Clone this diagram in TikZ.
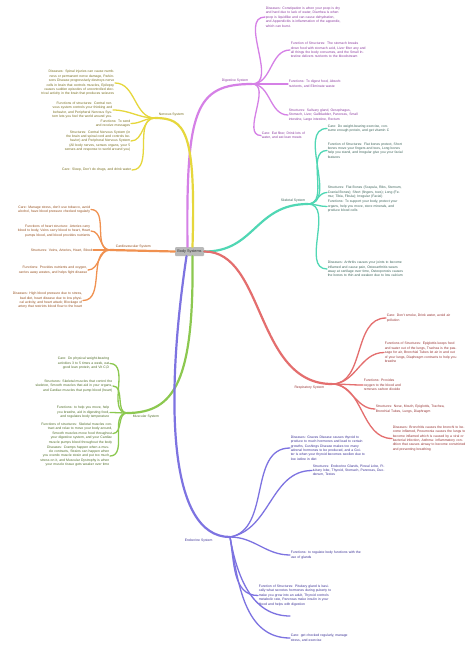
\documentclass[tikz,border=0pt]{standalone}
\usepackage{fontspec}
\setmainfont{Liberation Sans}
\definecolor{digC}{RGB}{213,128,230}
\definecolor{skeC}{RGB}{80,215,180}
\definecolor{resC}{RGB}{228,110,110}
\definecolor{endC}{RGB}{125,115,225}
\definecolor{nerC}{RGB}{230,215,60}
\definecolor{carC}{RGB}{240,145,80}
\definecolor{musC}{RGB}{140,200,80}
\definecolor{digT}{RGB}{140,60,160}
\definecolor{skeT}{RGB}{60,100,90}
\definecolor{resT}{RGB}{150,50,50}
\definecolor{endT}{RGB}{60,50,150}
\definecolor{nerT}{RGB}{120,110,30}
\definecolor{carT}{RGB}{150,80,30}
\definecolor{musT}{RGB}{80,110,40}
\tikzset{
  txt/.style={font=\fontsize{3.4}{4.4}\selectfont, inner sep=0pt, outer sep=0.8pt},
  rt/.style={txt, anchor=west, align=left, text width=#1},
  lt/.style={txt, anchor=east, align=right, text width=#1},
  mainline/.style={line width=2.2pt, line cap=round},
  subline/.style={line width=1.3pt, line cap=round},
}
\begin{document}
\begin{tikzpicture}[x=1pt,y=-1pt]
\useasboundingbox[fill=white] (0,0) rectangle (474,649);
% centre
\node[fill=gray!55, rounded corners=1pt, minimum width=29pt, minimum height=9pt, inner sep=0pt,
      font=\fontsize{3.8}{4.4}\selectfont, text=black!80] (body) at (189.5,251.5) {Body Systems};
% hubs
\coordinate (dig) at (252,84);
\coordinate (ske) at (308,204);
\coordinate (res) at (332,384);
\coordinate (endo) at (230,537);
\coordinate (nerv) at (155,118);
\coordinate (card) at (110,250);
\coordinate (musc) at (127,413);
% main branches
\draw[mainline, digC] (body.north) ++(-2,0) coordinate (b1) (b1) .. controls (186,110) and (195,84) .. (dig);
\draw[mainline, nerC] (body.north) ++(3,0) coordinate (b2) (b2) .. controls (196,130) and (185,118) .. (nerv);
\draw[mainline, carC] (body.west) -- (card);
\draw[mainline, skeC] (body.east) .. controls (255,252) and (255,204) .. (ske);
\draw[mainline, resC] (body.east) .. controls (265,251) and (255,384) .. (res);
\draw[mainline, musC] (body.south) ++(3,0) coordinate (b3) (b3) .. controls (194,380) and (175,413) .. (musc);
\draw[mainline, endC] (body.south) ++(-3,0) coordinate (b4) (b4) .. controls (165,400) and (168,537) .. (endo);
% labels
\node[txt, anchor=south east, text=digT] (digL) at (249,83) {Digestive System};
\node[txt, anchor=south east, text=skeT] (skeL) at (306,203) {Skeletal System};
\node[txt, anchor=north east, text=resT] (resL) at (325,385.5) {Respiratory System};
\node[txt, anchor=north west, text=endT] (endL) at (184,538.5) {Endocrine System};
\node[txt, anchor=south west, text=nerT] (nerL) at (158,117) {Nervous System};
\node[txt, anchor=south west, text=carT] (carL) at (115,249) {Cardiovascular System};
\node[txt, anchor=north west, text=musT] (musL) at (132,414.5) {Muscular System};
% ---------------- Digestive
\begin{scope}[every node/.append style={text=digT}]
\node[rt=77pt] (d1) at (265,17) {Diseases: Constipation is when your poop is dry and hard due to lack of water, Diarrhea is when poop is liquidlike and can cause dehydration, and Appendicitis is inflammation of the appendix, which can burst.};
\node[rt=75pt] (d2) at (290,50) {Function of Structures: The stomach breaks down food with stomach acid, Liver filter any and all things the body consumes, and the Small Intestine delivers nutrients to the bloodstream};
\node[rt=54pt] (d3) at (288,84) {Functions: To digest food, Absorb nutrients, and Eliminate waste};
\node[rt=71pt] (d4) at (288,115) {Structures: Salivary gland, Oesophagus, Stomach, Liver, Gallbladder, Pancreas, Small intestine, Large intestine, Rectum};
\node[rt=44pt] (d5) at (261,135.5) {Care: Eat fiber, Drink lots of water, and eat lean meats};
\end{scope}
\foreach \n in {d1,d2,d3,d4,d5} \draw[subline, digC] (dig) to[out=0,in=180] (\n.west);
% ---------------- Skeletal
\begin{scope}[every node/.append style={text=skeT}]
\node[rt=64pt] (s1) at (327,128.5) {Care: Do weight-bearing exercise, consume enough protein, and get vitamin C};
\node[rt=76pt] (s2) at (327,150.5) {Function of Structures: Flat bones protect, Short bones move your fingers and toes, Long bones help you stand, and Irregular give you your facial features};
\node[rt=76pt] (s3) at (327,192.5) {Structures: Flat Bones (Scapula, Ribs, Sternum, Cranial Bones); Short (fingers, toes); Long (Femur, Tibia, Fibula); Irregular (Facial)};
\node[rt=72pt] (s4) at (327,206.5) {Functions: To support your body, protect your organs, help you move, store minerals, and produce blood cells};
\node[rt=77pt] (s5) at (327,269) {Diseases: Arthritis causes your joints to become inflamed and cause pain, Osteoarthritis wears away at cartilage over time, Osteoporosis causes the bones to thin and weaken due to low calcium};
\end{scope}
\foreach \n in {s1,s2,s3,s4,s5} \draw[subline, skeC] (ske) to[out=0,in=180] (\n.west);
% ---------------- Respiratory
\begin{scope}[every node/.append style={text=resT}]
\node[rt=66pt] (r1) at (386,318) {Care: Don't smoke, Drink water, avoid air pollution};
\node[rt=74pt] (r2) at (384,352.5) {Functions of Structures: Epiglottis keeps food and water out of the lungs, Trachea is the passage for air, Bronchial Tubes let air in and out of your lungs, Diaphragm contracts to help you breathe};
\node[rt=38pt] (r3) at (363,385) {Functions: Provides oxygen to the blood and removes carbon dioxide};
\node[rt=70pt] (r4) at (375,409) {Structures: Nose, Mouth, Epiglottis, Trachea, Bronchial Tubes, Lungs, Diaphragm};
\node[rt=76pt] (r5) at (392,438.5) {Diseases: Bronchitis causes the bronchi to become inflamed, Pneumonia causes the lungs to become inflamed which is caused by a viral or bacterial infection, Asthma: inflammatory condition that causes airway to become constricted and preventing breathing};
\end{scope}
\foreach \n in {r1,r2,r3,r4,r5} \draw[subline, resC] (res) to[out=0,in=180] (\n.west);
% ---------------- Endocrine
\begin{scope}[every node/.append style={text=endT}]
\node[rt=76pt] (e1) at (290,448) {Diseases: Graves Disease causes thyroid to produce to much hormones and lead to certain growths, Cushings Disease makes too many adrenal hormones to be produced, and a Goiter is when your thyroid becomes swollen due to low iodine in diet};
\node[rt=74pt] (e2) at (312,470.5) {Structures: Endocrine Glands, Pineal Lobe, Pituitary lobe, Thyroid, Stomach, Pancreas, Duodenum, Testes};
\node[rt=72pt] (e3) at (290,555) {Functions: to regulate body functions with the use of glands};
\node[rt=76pt] (e4) at (258,595.5) {Function of Structures: Pituitary gland is basically what secretes hormones during puberty to make you grow into an adult, Thyroid controls metabolic rate, Pancreas make insulin in your blood and helps with digestion};
\node[rt=67pt] (e5) at (290,638) {Care: get checked regularly, manage stress, and exercise};
\end{scope}
\coordinate (e6) at (290,616);
\draw[subline, endC] (endo) to[out=10,in=180] (e1.west);
\draw[subline, endC] (endo) to[out=10,in=180] (e2.west);
\draw[subline, endC] (endo) to[out=0,in=180] (e3.west);
\draw[subline, endC] (endo) to[out=-80,in=180] (e4.west);
\draw[subline, endC] (endo) to[out=-80,in=180] (e6);
\draw[subline, endC] (endo) to[out=-80,in=180] (e5.west);
% ---------------- Nervous
\begin{scope}[every node/.append style={text=nerT}]
\node[lt=77pt] (n1) at (115,83) {Diseases: Spinal injuries can cause numbness or permanent nerve damage, Parkinsons Disease progressively destroys nerve cells in brain that controls muscles, Epilepsy causes sudden episodes of uncontrolled electrical activity in the brain that produces seizures};
\node[lt=74pt] (n2) at (113,110) {Functions of structures: Central nervous system controls your thinking and behavior, and Peripheral Nervous System lets you feel the world around you.};
\node[lt=44pt] (n3) at (131,123.5) {Functions: To send and receive messages};
\node[lt=69pt] (n4) at (131,141) {Structures: Central Nervous System (in the brain and spinal cord and controls behavior) and Peripheral Nervous System (All body nerves, senses organs, your 5 senses and response to world around you)};
\node[lt=72pt] (n5) at (132,170) {Care: Sleep, Don't do drugs, and drink water};
\end{scope}
\foreach \n in {n1,n2,n3,n4,n5} \draw[subline, nerC] (nerv) to[out=180,in=0] (\n.east);
% ---------------- Cardiovascular
\begin{scope}[every node/.append style={text=carT}]
\node[lt=75pt] (c1) at (91,209.5) {Care: Manage stress, don't use tobacco, avoid alcohol, have blood pressure checked regularly};
\node[lt=77pt] (c2) at (91,231) {Functions of heart structure: Arteries carry blood to body, Veins carry blood to heart, Heart pumps blood, and blood provides nutrients};
\node[lt=75pt] (c3) at (93,250) {Structures: Veins, Arteries, Heart, Blood};
\node[lt=75pt] (c4) at (88,270) {Functions: Provides nutrients and oxygen, carries away wastes, and helps fight disease};
\node[lt=76pt] (c5) at (83,300.5) {Diseases: High blood pressure due to stress, bad diet, heart disease due to low physical activity, and heart attack; Blockage of artery that restricts blood flow to the heart};
\end{scope}
\foreach \n in {c1,c2,c3,c4,c5} \draw[subline, carC] (card) to[out=180,in=0] (\n.east);
% ---------------- Muscular
\begin{scope}[every node/.append style={text=musT}]
\node[lt=75pt] (m1) at (110,363.5) {Care: Do physical weight-bearing activities 3 to 5 times a week, eat good lean protein, and Vit C,D};
\node[lt=77pt] (m2) at (113,386) {Structures: Skeletal muscles that control the skeleton, Smooth muscles that aid in your organs, and Cardiac muscles that pump blood (heart)};
\node[lt=75pt] (m3) at (110,412.5) {Functions: to help you move, help you breathe, aid in digesting food, and regulates body temperature};
\node[lt=77pt] (m4) at (113,433.5) {Functions of structures: Skeletal muscles contract and relax to move your body around, Smooth muscles move food throughout your digestive system, and your Cardiac muscle pumps blood throughout the body};
\node[lt=75pt] (m5) at (110,456) {Diseases: Cramps happen when a muscle contracts, Strains can happen when you overdo muscle strain and put too much stress on it, and Muscular Dystrophy is when your muscle tissue gets weaker over time};
\end{scope}
\foreach \n in {m1,m2,m3,m4,m5} \draw[subline, musC] (musc) to[out=180,in=0] (\n.east);
\end{tikzpicture}
\end{document}
